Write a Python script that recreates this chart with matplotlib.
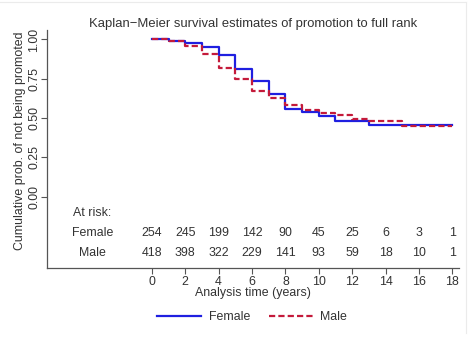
import numpy as np
import matplotlib
matplotlib.use("Agg")
import matplotlib.pyplot as plt
from matplotlib.lines import Line2D

plt.rcParams['font.family'] = ['Liberation Sans', 'DejaVu Sans']

# survival estimates at the start of each year (step after each year)
years = list(range(0, 19))
female_surv = [1.00, 0.990, 0.980, 0.950, 0.900, 0.810, 0.735, 0.650, 0.556,
               0.537, 0.515, 0.483, 0.483, 0.454, 0.454, 0.454, 0.454, 0.454, 0.454]
male_surv = [1.00, 0.988, 0.960, 0.907, 0.820, 0.750, 0.670, 0.627, 0.583,
             0.550, 0.530, 0.522, 0.493, 0.481, 0.481, 0.451, 0.451, 0.451, 0.451]

# numbers at risk
risk_times = [0, 2, 4, 6, 8, 10, 12, 14, 16, 18]
female_risk = [254, 245, 199, 142, 90, 45, 25, 6, 3, 1]
male_risk = [418, 398, 322, 229, 141, 93, 59, 18, 10, 1]

blue = '#1f1fe0'
red = '#c41a3a'
txt = '#333333'
fs = 8.9

fig = plt.figure(figsize=(4.74, 3.45), dpi=100)
ax = fig.add_axes([47/474, 1-268/345, 412/474, 238/345])

ax.step(years, female_surv, where='post', color=blue, lw=1.6, label='Female')
ax.step(years, male_surv, where='post', color=red, lw=1.6, dashes=(2.8, 1.4), label='Male')

ax.set_xlim(-6.28, 18.4)
ax.set_ylim(-0.453, 1.06)

ax.spines['top'].set_visible(False)
ax.spines['right'].set_visible(False)
for s in ['left', 'bottom']:
    ax.spines[s].set_color('#555555')
    ax.spines[s].set_linewidth(0.9)

ax.set_xticks(risk_times)
ax.set_yticks([0, 0.25, 0.5, 0.75, 1.0])
ax.set_yticklabels(['0.00', '0.25', '0.50', '0.75', '1.00'])
ax.tick_params(axis='both', colors='#555555', labelcolor=txt, labelsize=fs,
               length=4, width=0.8)
ax.tick_params(axis='x', pad=2)
ax.tick_params(axis='y', pad=0.8)
plt.setp(ax.get_yticklabels(), rotation=90, va='center')

ax.set_ylabel('Cumulative prob. of not being promoted', fontsize=fs, color=txt, va='center')
ax.yaxis.set_label_coords(-0.066, 0.535)
ax.set_xlabel('Analysis time (years)', fontsize=fs, color=txt, va='center')
ax.xaxis.set_label_coords(0.5, -0.104)

ax.set_title('Kaplan\u2212Meier survival estimates of promotion to full rank',
             fontsize=fs + 0.5, color=txt, pad=2.5)

# at-risk table
ax.text(-4.75, -0.106, 'At risk:', fontsize=fs, color=txt, ha='left', va='center')
ax.text(-3.57, -0.233, 'Female', fontsize=fs, color=txt, ha='center', va='center')
ax.text(-3.57, -0.356, 'Male', fontsize=fs, color=txt, ha='center', va='center')
for t, f, m in zip(risk_times, female_risk, male_risk):
    ax.text(t, -0.233, str(f), fontsize=fs, color=txt, ha='center', va='center')
    ax.text(t, -0.356, str(m), fontsize=fs, color=txt, ha='center', va='center')

leg = fig.legend(loc='center', bbox_to_anchor=(252/474, 1-317/345), ncol=2,
                 frameon=False, fontsize=fs, handlelength=3.6, handletextpad=0.6,
                 columnspacing=1.5)
for t in leg.get_texts():
    t.set_color(txt)

# faint outer border
fig.add_artist(Line2D([0, 466/474], [1-2/345, 1-2/345], transform=fig.transFigure,
                      color='#ebebeb', lw=0.8))
fig.add_artist(Line2D([466/474, 466/474], [1-2/345, 1-333/345], transform=fig.transFigure,
                      color='#ebebeb', lw=0.8))

fig.savefig('out.png', dpi=100)
